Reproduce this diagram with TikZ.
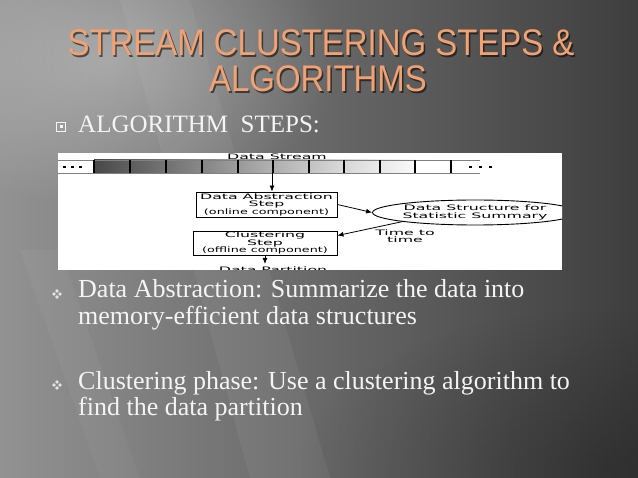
\documentclass[tikz,border=0pt]{standalone}
\usepackage{fontspec}
\setmainfont{Liberation Serif}
\newfontfamily\titlefont{Liberation Sans}
\newfontfamily\diagfont[FakeStretch=2.1]{DejaVu Sans}
\newfontfamily\diagfontn[FakeStretch=1.7]{DejaVu Sans}
\usetikzlibrary{arrows.meta,shapes.geometric,fadings,calc}
\definecolor{bgL}{HTML}{929292}
\definecolor{bgM}{HTML}{636363}
\definecolor{bgR}{HTML}{3E3E3E}
\definecolor{titleor}{HTML}{F2A272}
\definecolor{bodytxt}{HTML}{F4F4F4}
\tikzfading[name=glow, inner color=transparent!0, outer color=transparent!100]
\tikzset{
  titletxt/.style={font=\titlefont\fontsize{37}{42}\selectfont, text=titleor, anchor=base, inner sep=0pt, xscale=0.89, transform shape},
  titleshadow/.style={titletxt, text=black, opacity=0.55},
  bodyline/.style={font=\fontsize{26}{29}\selectfont, text=bodytxt, anchor=base west, inner sep=0pt},
  headline/.style={bodyline, font=\fontsize{25}{28}\selectfont},
  lbl/.style={font=\diagfont\fontsize{7.5}{7.5}\selectfont, align=center, inner sep=0pt},
  boxn/.style={lbl, draw=black, line width=0.9pt, fill=white},
  ell/.style={lbl, ellipse, draw=black, line width=0.9pt, fill=white, minimum width=164pt, minimum height=25pt, inner sep=0pt},
  arr/.style={draw=black, line width=0.8pt, -{Latex[length=6pt,width=5pt]}},
  bulletdia/.style={fill=bodytxt!85!gray}
}
\begin{document}
\begin{tikzpicture}[x=1pt,y=-1pt]
\useasboundingbox (0,0) rectangle (638,478);
% background
\shade[left color=bgL, middle color=bgM, right color=bgR] (0,0) rectangle (638,478);
\begin{scope}
\clip (0,0) rectangle (638,478);
\fill[white, opacity=0.30, path fading=glow] (110,60) ellipse (230pt and 150pt);
\fill[black, opacity=0.25, path fading=glow] (600,470) ellipse (300pt and 160pt);
\fill[white, opacity=0.05] (120,0) -- (190,0) -- (330,478) -- (250,478) -- cycle;
\fill[white, opacity=0.04] (20,250) -- (60,250) -- (140,478) -- (100,478) -- cycle;
\end{scope}
% title
\node[titleshadow] (t1s) at (322.5,57.5) {STREAM CLUSTERING STEPS \&};
\node[titletxt] (t1) at (321,56) {STREAM CLUSTERING STEPS \&};
\node[titleshadow] (t2s) at (319.5,93.5) {ALGORITHMS};
\node[titletxt] (t2) at (318,92) {ALGORITHMS};
% first bullet (boxed)
\draw[bodytxt, line width=0.9pt] (56.5,122.5) rectangle (65.5,131.5);
\fill[bodytxt] (59.5,125.5) rectangle (62.5,128.5);
\node[headline] (h) at (78,133) {ALGORITHM\ \ STEPS:};
% diagram panel
\fill[white] (58,153) rectangle (562,270);
\begin{scope}
\clip (58,153) rectangle (562,270);
\foreach \a/\b/\l/\r in {94/130/72/62, 130/166/64/54, 166/202/56/46, 202/238/48/38, 238/273/40/30, 273/309/32/22, 309/344/24/14, 344/380/16/8, 380/415/9/2}
  \shade[left color=black!\l, right color=black!\r] (\a,160) rectangle (\b,173);
\draw[gray, line width=0.8pt] (58,160) -- (480,160);
\draw[gray, line width=0.8pt] (58,173) -- (480,173);
\foreach \x in {94,130,166,202,238,273,309,344,380,415,451}
  \draw[black, line width=1.8pt] (\x,160) -- (\x,173);
\foreach \x in {64,72,80,470,480,490}
  \fill[black] (\x-1.5,166) rectangle (\x+1.5,167.8);
\node[lbl] (ds) at (277,156.5) {Data Stream};
\coordinate (s) at (272,173);
\node[boxn, minimum width=141pt, minimum height=25pt] (abs) at (266.5,204.5) {Data Abstraction\\Step\\{\diagfontn(online component)}};
\node[ell] (sum) at (475,212.5) {Data Structure for\\Statistic Summary};
\node[boxn, minimum width=144pt, minimum height=24pt] (clu) at (265,243) {Clustering\\Step\\{\diagfontn(offline component)}};
\node[lbl] (tt) at (405,236) {Time to\\time};
\node[lbl] (dp) at (273,270) {Data Partition};
\coordinate (pe) at (265,264);
\draw[arr] (s) -- (s |- abs.north);
\draw[arr] (abs.east) -- (sum.west);
\draw[arr] (sum.south west) -- ($(clu.north east)!0.2!(clu.south east)$);
\draw[arr] (clu.south) -- (pe);
\end{scope}
% diamond bullets
\foreach \cy in {294,385} {
  \foreach \dx/\dy in {-3/0, 3/0, 0/-3, 0/3}
    \fill[bulletdia] (57+\dx-1.9,\cy+\dy) -- (57+\dx,\cy+\dy-1.9) -- (57+\dx+1.9,\cy+\dy) -- (57+\dx,\cy+\dy+1.9) -- cycle;
}
\node[bodyline] (l1) at (78,298) {Data Abstraction: Summarize the data into};
\node[bodyline] (l2) at (78,325) {memory-efficient data structures};
\node[bodyline] (l3) at (78,390) {Clustering phase: Use a clustering algorithm to};
\node[bodyline] (l4) at (78,416) {find the data partition};
\end{tikzpicture}
\end{document}
